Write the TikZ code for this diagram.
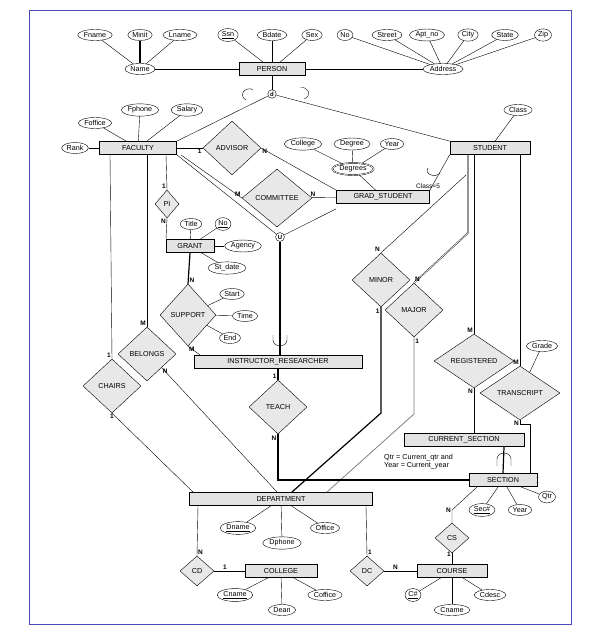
\documentclass[tikz,border=0pt]{standalone}
\usepackage{fontspec}
\setmainfont{Liberation Sans}
\usetikzlibrary{shapes,positioning,calc}
\begin{document}
\begin{tikzpicture}[x=1pt,y=-1pt,
                every node/.style = {font=\fontsize{7.2}{8}\selectfont},
                ent/.style = {draw,thick,fill=gray!22,minimum height=13pt,inner sep=1pt},
                rel/.style = {draw,diamond,fill=gray!18,inner sep=0pt,minimum width=58pt,minimum height=54pt},
                srel/.style = {draw,diamond,fill=gray!18,inner sep=0pt,minimum width=34pt,minimum height=30pt},
                attr/.style = {draw,ellipse,inner sep=1pt,minimum height=11pt},
                card/.style = {font=\fontsize{6.5}{7}\selectfont\bfseries,inner sep=1pt},
                link/.style = {draw,semithick},
                tlink/.style = {draw,very thick}
            ]
            \useasboundingbox (0,0) rectangle (605,637);
            \draw [blue!40!gray] (29,10) rectangle (571,624);
            % person
            \node[ent,minimum width=66pt] (person) at (272,69) {PERSON};
            \node[attr] (name) at (140,69) {Name};
            \node[attr] (addr) at (443,69) {Address};
            \node[attr] (fname) at (95,35) {Fname};
            \node[attr] (minit) at (140,35) {Minit};
            \node[attr] (lname) at (180,35) {Lname};
            \node[attr] (ssn) at (228,35) {\underline{Ssn}};
            \node[attr] (bdate) at (272,35) {Bdate};
            \node[attr] (sex) at (312,35) {Sex};
            \node[attr] (no) at (345,35) {No};
            \node[attr] (street) at (387,35) {Street};
            \node[attr] (aptno) at (427,35) {Apt\_no};
            \node[attr] (city) at (468,35) {City};
            \node[attr] (state) at (505,35) {State};
            \node[attr] (zip) at (543,35) {Zip};
            \draw (name) -- (person) -- (addr);
            \foreach \a in {fname,lname} \draw (\a) -- (name);
            \draw [very thick] (minit) -- (name);
            \foreach \a in {ssn,bdate,sex} \draw (\a) -- (person);
            \foreach \a in {no,street,aptno,city,state,zip} \draw (\a) -- (addr);
            \node[draw,circle,inner sep=1pt,font=\fontsize{6}{6}\selectfont\bfseries] (dj) at (272,94) {d};
            \draw (person) -- (dj);
            % faculty and student
            \node[ent,minimum width=77pt] (fac) at (138,148) {FACULTY};
            \node[ent,minimum width=80pt] (stu) at (490,148) {STUDENT};
            \node[attr] (rank) at (75,148) {Rank};
            \node[attr] (foff) at (95,123) {Foffice};
            \node[attr] (fph) at (140,110) {Fphone};
            \node[attr] (sal) at (187,110) {Salary};
            \node[attr] (cls) at (518,110) {Class};
            \draw (rank) -- (fac);
            \foreach \a in {foff,fph,sal} \draw (\a) -- (fac);
            \draw (cls) -- (stu);
            \draw (dj) -- (fac.north east);
            \draw (dj) -- (stu.north west);
            \draw (246,100) arc (120:300:7 and 6);
            \draw (304,99) arc (70:-100:7 and 6);
            % grad student
            \node[ent,minimum width=93pt] (grad) at (383,197) {GRAD\_STUDENT};
            \node[draw,ellipse,double,inner sep=1pt,minimum height=11pt] (degs) at (353,169) {Degrees};
            \node[attr] (coll) at (303,144) {College};
            \node[attr] (deg) at (352,144) {Degree};
            \node[attr] (year) at (392,144) {Year};
            \foreach \a in {coll,deg,year} \draw (\a) -- (degs);
            \draw (degs) -- (grad);
            \draw (stu.south west) -- (grad.north east);
            \draw (428,168) arc (210:30:7 and 5);
            \node[card,font=\fontsize{6.5}{7}\selectfont,anchor=west] at (415,186) {Class=5};
            \node[rel] (adv) at (232,148) {ADVISOR};
            \node[rel,minimum width=70pt,minimum height=58pt] (comm) at (277,198) {COMMITTEE};
            \draw (fac) -- (adv.west) node[card,below left] {1};
            \draw (adv.east) node[card,below right] {N} -- (grad.north west);
            \draw (comm) -- (grad) node[card,pos=0.05,above] {N};
            \draw ([xshift=4pt] fac.south east) -- (comm.west) node[card,above left] {M};
            \node[draw,circle,inner sep=1pt,font=\fontsize{6}{6}\selectfont\bfseries] (un) at (280,237) {U};
            \draw (fac.south east) -- (un);
            \draw ([yshift=-5pt] grad.south west) -- (un);
            % grant
            \node[rel,minimum width=24pt,minimum height=28pt] (pi) at (167,204) {PI};
            \node[ent,minimum width=48pt,thin] (grant) at (190,246) {GRANT};
            \node[attr] (title) at (191,224) {Title};
            \node[attr] (gno) at (223,224) {\underline{No}};
            \node[attr] (agcy) at (243,246) {Agency};
            \node[attr] (stdt) at (227,268) {St\_date};
            \foreach \a in {title,gno,agcy,stdt} \draw (\a) -- (grant);
            \draw (166,155) -- (pi.north) node[card,above left] {1};
            \draw (pi.south) node[card,below left] {N} -- (166,239);
            \node[rel,minimum width=56pt,minimum height=62pt] (sup) at (188,315) {SUPPORT};
            \node[attr] (start) at (232,294) {Start};
            \node[attr] (time) at (245,316) {Time};
            \node[attr] (end) at (230,338) {End};
            \foreach \a in {start,time,end} \draw (\a) -- (sup);
            \draw [very thick] (190,253) -- (sup.north) node[card,above right] {N};
            % instructor researcher
            \node[ent,minimum width=168pt] (ir) at (278,362) {INSTRUCTOR\_RESEARCHER};
            \draw (sup.south) node[card,below right] {M} -- (200,355);
            \draw [very thick] (un) -- (280,355);
            \draw (273,335) -- (273,340) arc (180:0:7 and 6) -- (287,335);
            \node[rel] (teach) at (278,407) {TEACH};
            \draw [very thick] (ir) -- (teach.north) node[card,above left] {1};
            % department
            \node[ent,minimum width=183pt] (dept) at (281,499) {DEPARTMENT};
            \node[rel] (bel) at (147,354) {BELONGS};
            \node[rel] (chr) at (112,386) {CHAIRS};
            \draw (147,155) -- (bel.north) node[card,above left] {M};
            \draw (110,155) -- (chr.north) node[card,above left] {1};
            \draw (bel.south east) node[card,below right] {N} -- (277,492);
            \draw (chr.south) node[card,below] {1} -- (193,492);
            \node[attr] (dname) at (238,528) {\underline{Dname}};
            \node[attr] (dph) at (282,543) {Dphone};
            \node[attr] (doff) at (325,528) {Office};
            \foreach \a in {dname,dph,doff} \draw (\a) -- (dept);
            % minor major
            \node[rel] (minor) at (381,280) {MINOR};
            \node[rel] (major) at (414,310) {MAJOR};
            \draw (466,175) -- (minor.north) node[card,above left] {N};
            \draw [double] (468,155) -- (468,233) -- (major.north) node[card,above right] {N};
            \draw [very thick] (minor.south) node[card,below left] {1} -- (381,413) -- (292,492);
            \draw [thick,gray] (major.south) node[card,below right,black] {1} -- (414,414) -- (327,492);
            % section
            \node[rel,minimum width=80pt] (reg) at (474,361) {REGISTERED};
            \node[rel,minimum width=80pt] (trn) at (520,393) {TRANSCRIPT};
            \node[attr] (grade) at (542,346) {Grade};
            \draw (grade) -- (trn);
            \draw (474,155) -- (reg.north) node[card,above left] {M};
            \draw (520,155) -- (trn.north) node[card,above left] {M};
            \node[ent,minimum width=120pt] (cursec) at (464,440) {CURRENT\_SECTION};
            \node[ent,minimum width=68pt] (sec) at (503,480) {SECTION};
            \draw (reg.south) node[card,below left] {N} -- (474,433);
            \draw (trn.south) node[card,below left] {N} -- (520,424) -- (530,424) -- (530,473);
            \draw [very thick] (504,447) -- (sec.north);
            \draw (497,466) -- (497,459) arc (180:360:7 and 6) -- (511,466);
            \node[anchor=west,align=left,inner sep=0pt] (cond) at (384,462) {Qtr = Current\_qtr and\\Year = Current\_year};
            \draw [very thick] (teach.south) node[card,below left] {N} -- (278,480) -- (sec.west);
            \node[attr] (secno) at (482,510) {\underline{Sec\#}};
            \node[attr] (syear) at (520,510) {Year};
            \node[attr] (qtr) at (547,497) {Qtr};
            \foreach \a in {secno,syear,qtr} \draw (\a) -- (sec);
            % college course
            \node[srel] (cd) at (197,571) {CD};
            \node[ent,minimum width=72pt] (college) at (281,571) {COLLEGE};
            \node[attr] (cname) at (235,595) {\underline{Cname}};
            \node[attr] (dean) at (282,610) {Dean};
            \node[attr] (coff) at (325,595) {Coffice};
            \foreach \a in {cname,dean,coff} \draw (\a) -- (college);
            \draw (198,506) -- (cd.north) node[card,above right] {N};
            \draw (cd) -- (college) node[card,pos=0.35,above] {1};
            \node[srel] (dc) at (367,571) {DC};
            \node[ent,minimum width=70pt] (course) at (452,571) {COURSE};
            \node[attr] (cno) at (413,595) {\underline{C\#}};
            \node[attr] (crsname) at (452,610) {Cname};
            \node[attr] (cdesc) at (490,595) {Cdesc};
            \foreach \a in {cno,crsname,cdesc} \draw (\a) -- (course);
            \draw (366,506) -- (dc.north) node[card,above right] {1};
            \draw (dc) -- (course) node[card,pos=0.35,above] {N};
            \node[srel] (cs) at (452,538) {CS};
            \draw (477,487) -- (452,510) node[card,left] {N} -- (cs.north);
            \draw (cs) -- (course) node[card,pos=0.1,left] {1};
        \end{tikzpicture}
\end{document}
